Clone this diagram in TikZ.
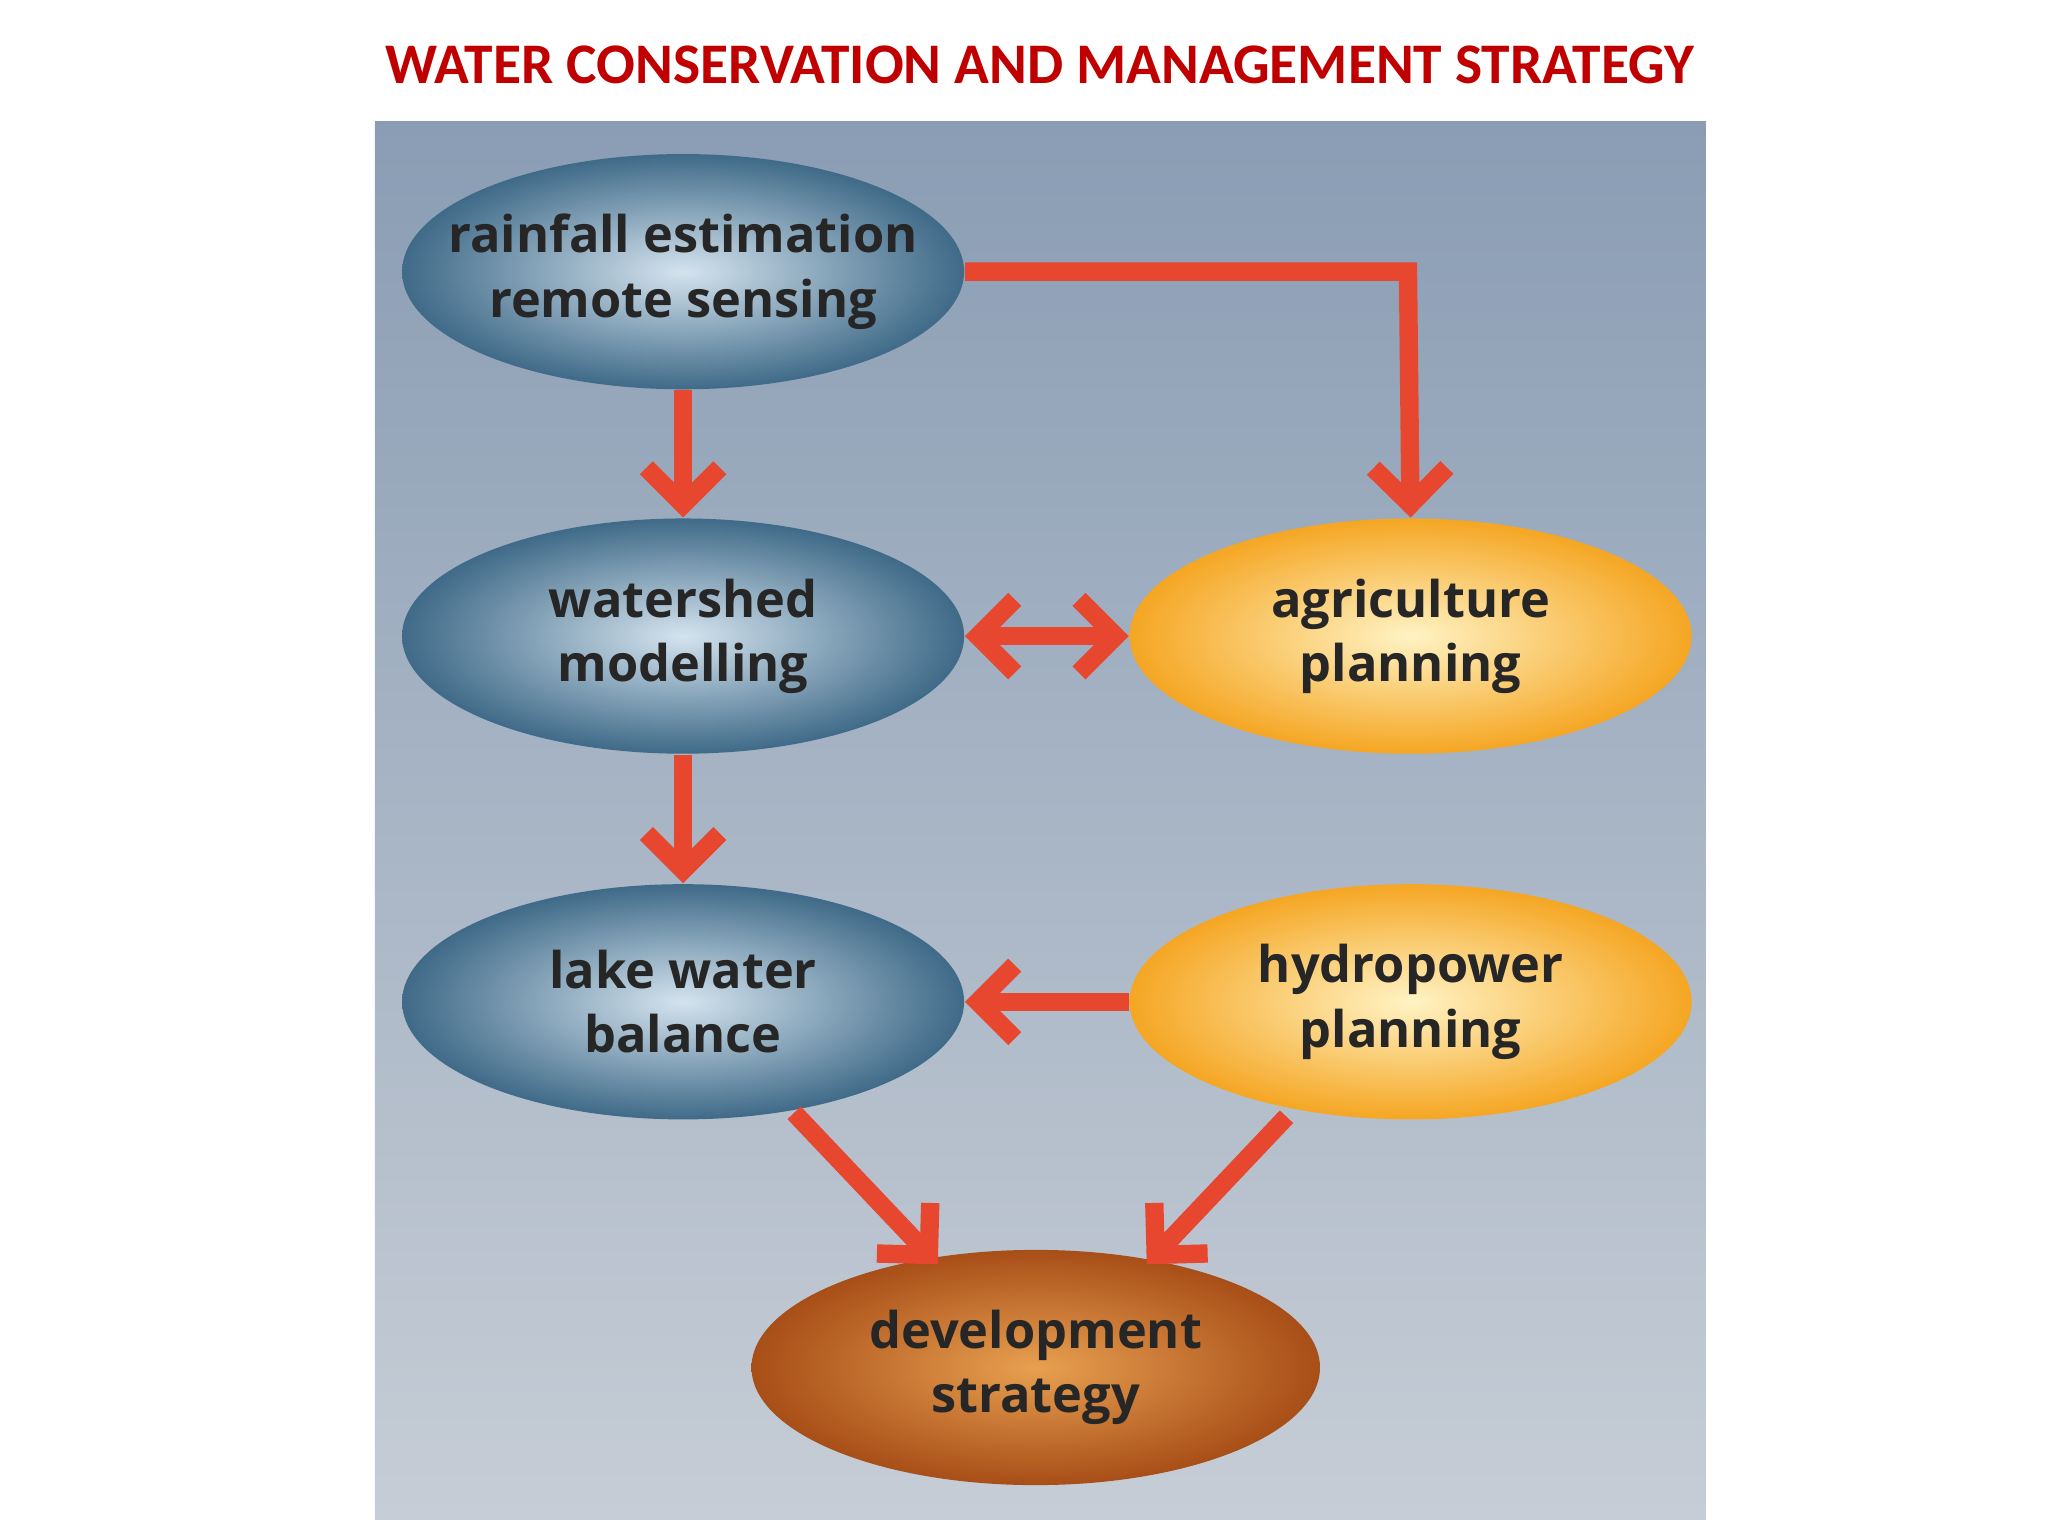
\documentclass[tikz,border=0pt]{standalone}
\usepackage{fontspec}
\setmainfont{Carlito}
\newfontfamily\lab{Open Sans}
\usetikzlibrary{arrows.meta,shapes.geometric}
\definecolor{ttl}{HTML}{C00000}
\definecolor{arr}{HTML}{E8472F}
\definecolor{bgtop}{HTML}{8A9DB4}
\definecolor{bgbot}{HTML}{C6CDD6}
\definecolor{bin}{HTML}{D4E3EE}
\definecolor{bout}{HTML}{3F6A88}
\definecolor{oin}{HTML}{FFF3C4}
\definecolor{oout}{HTML}{F5A623}
\definecolor{din}{HTML}{E8A050}
\definecolor{dout}{HTML}{A84E18}
\tikzset{
 blob/.style={ellipse,inner sep=-12pt,minimum width=4.3cm,minimum height=1.8cm,align=center,font=\lab\bfseries\fontsize{11}{14}\selectfont,text=black!85},
 bluebl/.style={blob,inner color=bin,outer color=bout},
 orbl/.style={blob,inner color=oin,outer color=oout},
 dorbl/.style={blob,inner color=din,outer color=dout},
 conn/.style={draw=arr,line width=4pt,-{Straight Barb[length=8pt,width=16pt,line width=4pt]}},
 dconn/.style={draw=arr,line width=4pt,{Straight Barb[length=8pt,width=16pt,line width=4pt]}-{Straight Barb[length=8pt,width=16pt,line width=4pt]}}
}
\begin{document}
\begin{tikzpicture}[x=0.01cm,y=-0.01cm]
\useasboundingbox (0,0) rectangle (1568,1176);
\fill[white] (0,0) rectangle (1568,1176);
\node[font=\bfseries\fontsize{12.5}{15}\selectfont,text=ttl] (title) at (796,50) {WATER CONSERVATION AND MANAGEMENT STRATEGY};
\shade[top color=bgtop,bottom color=bgbot] (287,93) rectangle (1306,1163);
\node[bluebl] (rain) at (523,208) {rainfall estimation\\remote sensing};
\node[bluebl] (ws) at (523,487) {watershed\\modelling};
\node[bluebl] (lake) at (523,767) {lake water\\balance};
\node[orbl] (agri) at (1080,487) {agriculture\\planning};
\node[orbl] (hydro) at (1080,767) {hydropower\\planning};
\node[dorbl,minimum width=4.35cm] (dev) at (793,1047) {development\\strategy};
\coordinate (l1) at (608,852);
\coordinate (d1) at (718,968);
\coordinate (h1) at (985,855);
\coordinate (d2) at (878,968);
\draw[conn] (rain) -- (ws);
\draw[conn] (rain.east) -- (1078,208) -- (agri.north);
\draw[dconn] (ws) -- (agri);
\draw[conn] (ws) -- (lake);
\draw[conn] (hydro) -- (lake);
\draw[conn] (l1) -- (d1);
\draw[conn] (h1) -- (d2);
\end{tikzpicture}
\end{document}
